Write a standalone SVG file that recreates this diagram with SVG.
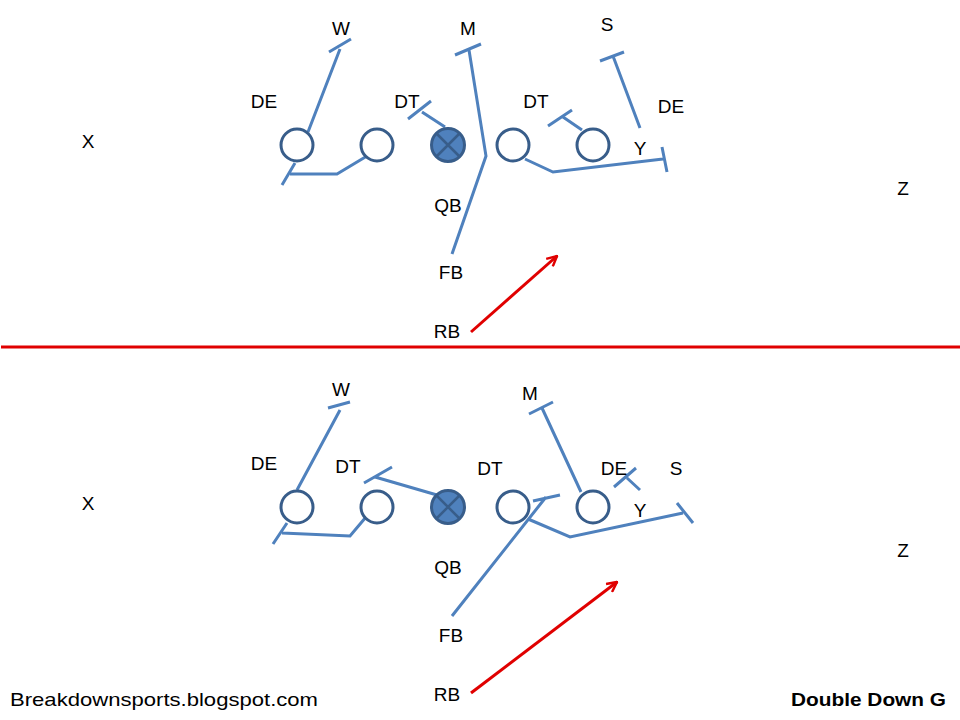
<svg xmlns="http://www.w3.org/2000/svg" width="960" height="720" viewBox="0 0 960 720">
<style>
.t{font-family:"Liberation Sans",Arial,sans-serif;font-size:19px;fill:#000;text-anchor:middle}
.r{stroke:#4F81BD;stroke-width:3;fill:none;stroke-linecap:butt;stroke-linejoin:miter}
.p{fill:#fff;stroke:#385D8A;stroke-width:3}
.c{fill:#4F81BD;stroke:#385D8A;stroke-width:3}
.x{stroke:#385D8A;stroke-width:2.5}
.a{stroke:#E00000;stroke-width:3;fill:none}
</style>
<defs>
<marker id="ah" viewBox="0 0 12 12" refX="11" refY="6" markerWidth="12" markerHeight="12" markerUnits="userSpaceOnUse" orient="auto">
<path d="M1,1 L11,6 L1,11" fill="none" stroke="#E00000" stroke-width="2.5"/>
</marker>
</defs>
<rect width="960" height="720" fill="#fff"/>

<g id="top">
<g id="top-connectors">
<path class="r" d="M308,132 L340,49 M329,52 L351,39"/>
<path class="r" d="M367,156 L337,174 L290,174 M282,185 L295,163"/>
<path class="r" d="M445,127 L422,112 M408,119 L431,101"/>
<path class="r" d="M469,50 L486,156 L452,254 M455,55 L481,44"/>
<path class="r" d="M525,159 L553,172 L663,159 M662,147 L667,172"/>
<path class="r" d="M582,130 L563,117 M548,126 L572,110"/>
<path class="r" d="M640,128 L613,56 M600,61 L624,52"/>
<path class="a" d="M471,332 L557,256" marker-end="url(#ah)"/>
</g>
<g id="top-DE-l"><circle class="p" cx="297" cy="145" r="16"/></g>
<g id="top-DT-l"><circle class="p" cx="377" cy="145" r="16"/></g>
<g id="top-C"><circle class="c" cx="448" cy="145" r="16.5"/><path class="x" d="M436.5,133.5 L459.5,156.5 M459.5,133.5 L436.5,156.5"/></g>
<g id="top-DT-r"><circle class="p" cx="513" cy="145" r="16"/></g>
<g id="top-DE-r"><circle class="p" cx="593" cy="145" r="16"/></g>
<g id="top-labels">
<text class="t" x="341" y="35">W</text>
<text class="t" x="468" y="35">M</text>
<text class="t" x="607" y="31">S</text>
<text class="t" x="264" y="108">DE</text>
<text class="t" x="407" y="108">DT</text>
<text class="t" x="536" y="108">DT</text>
<text class="t" x="671" y="113">DE</text>
<text class="t" x="640" y="155">Y</text>
<text class="t" x="88" y="148">X</text>
<text class="t" x="903" y="195">Z</text>
<text class="t" x="448" y="212">QB</text>
<text class="t" x="451" y="279">FB</text>
<text class="t" x="447" y="338">RB</text>
</g>
</g>

<line id="divider" x1="1" y1="347" x2="960" y2="347" stroke="#E00000" stroke-width="3"/>

<g id="bottom">
<g id="bottom-connectors">
<path class="r" d="M297,490 L340,410 M328,408 L350,402"/>
<path class="r" d="M366,517 L350,536 L282,533 M273,544 L287,523"/>
<path class="r" d="M437,495 L375,477 M364,483 L392,467"/>
<path class="r" d="M581,492 L542,408 M529,414 L553,402"/>
<path class="r" d="M640,490 L627,478 M614,487 L636,468"/>
<path class="r" d="M528,519 L570,537 L683,513 M677,503 L693,523"/>
<path class="r" d="M452,616 L546,497 M533,501 L560,495"/>
<path class="a" d="M471,693 L617,582" marker-end="url(#ah)"/>
</g>
<g id="bot-DE-l"><circle class="p" cx="297" cy="507" r="16"/></g>
<g id="bot-DT-l"><circle class="p" cx="377" cy="507" r="16"/></g>
<g id="bot-C"><circle class="c" cx="448" cy="507" r="16.5"/><path class="x" d="M436.5,495.5 L459.5,518.5 M459.5,495.5 L436.5,518.5"/></g>
<g id="bot-DT-r"><circle class="p" cx="513" cy="507" r="16"/></g>
<g id="bot-DE-r"><circle class="p" cx="593" cy="507" r="16"/></g>
<g id="bottom-labels">
<text class="t" x="341" y="396">W</text>
<text class="t" x="530" y="400">M</text>
<text class="t" x="264" y="470">DE</text>
<text class="t" x="348" y="473">DT</text>
<text class="t" x="490" y="475">DT</text>
<text class="t" x="614" y="475">DE</text>
<text class="t" x="676" y="475">S</text>
<text class="t" x="640" y="517">Y</text>
<text class="t" x="88" y="510">X</text>
<text class="t" x="903" y="557">Z</text>
<text class="t" x="448" y="574">QB</text>
<text class="t" x="451" y="642">FB</text>
<text class="t" x="447" y="701">RB</text>
</g>
</g>

<g id="footer">
<text x="10" y="706" font-family="Liberation Sans, Arial, sans-serif" font-size="19" textLength="308" lengthAdjust="spacingAndGlyphs">Breakdownsports.blogspot.com</text>
<text x="946" y="706" font-family="Liberation Sans, Arial, sans-serif" font-size="19" font-weight="bold" text-anchor="end" textLength="155" lengthAdjust="spacingAndGlyphs">Double Down G</text>
</g>
</svg>
